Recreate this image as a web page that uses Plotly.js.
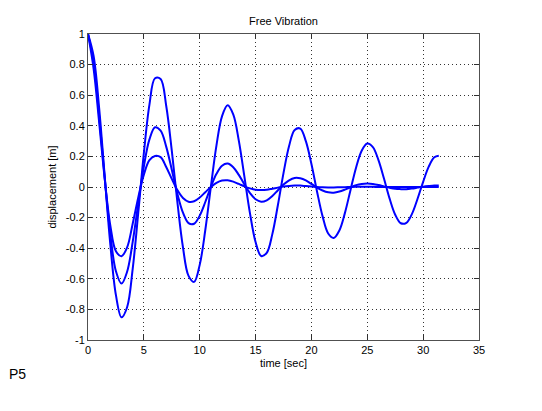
<!DOCTYPE html>
<html>
<head>
<meta charset="utf-8">
<script src="https://cdn.plot.ly/plotly-3.0.1.min.js"></script>
<style>html,body{margin:0;padding:0;background:#fff;}#chart{width:542px;height:411px;}</style>
</head>
<body>
<div id="chart"></div>
<script>
// time [sec]
const timeSec = [0,0.5,1,1.5,2,2.5,3,3.5,4,4.5,5,5.5,6,6.5,7,7.5,8,8.5,9,9.5,10,10.5,11,11.5,12,12.5,13,13.5,14,14.5,15,15.5,16,16.5,17,17.5,18,18.5,19,19.5,20,20.5,21,21.5,22,22.5,23,23.5,24,24.5,25,25.5,26,26.5,27,27.5,28,28.5,29,29.5,30,30.5,31,31.4];

// lightly damped response
const dispLow = [1.000,0.856,0.514,0.066,-0.376,-0.707,-0.852,-0.786,-0.535,-0.168,0.221,0.538,0.711,0.706,0.531,0.238,-0.098,-0.394,-0.581,-0.620,-0.509,-0.281,0.003,0.272,0.463,0.534,0.474,0.303,0.068,-0.172,-0.359,-0.451,-0.430,-0.308,-0.118,0.091,0.268,0.373,0.382,0.300,0.150,-0.029,-0.192,-0.304,-0.333,-0.284,-0.169,-0.019,0.128,0.237,0.284,0.261,0.176,0.054,-0.076,-0.181,-0.237,-0.234,-0.176,-0.077,0.034,0.133,0.194,0.205];

// medium damped response
const dispMid = [1.000,0.814,0.465,0.056,-0.308,-0.551,-0.631,-0.554,-0.359,-0.107,0.134,0.311,0.390,0.368,0.264,0.113,-0.044,-0.168,-0.236,-0.240,-0.187,-0.098,0.001,0.086,0.139,0.153,0.129,0.079,0.017,-0.040,-0.080,-0.096,-0.087,-0.059,-0.021,0.016,0.044,0.059,0.057,0.043,0.020,-0.004,-0.023,-0.035,-0.037,-0.030,-0.017,-0.002,0.012,0.020,0.023,0.020,0.013,0.004,-0.005,-0.012,-0.014,-0.014,-0.010,-0.004,0.002,0.006,0.009,0.009];

// heavily damped response
const dispHigh = [1.000,0.774,0.421,0.049,-0.252,-0.420,-0.452,-0.395,-0.240,-0.068,0.081,0.176,0.203,0.195,0.131,0.053,-0.020,-0.072,-0.096,-0.093,-0.069,-0.034,0.000,0.027,0.042,0.044,0.035,0.020,0.004,-0.009,-0.018,-0.020,-0.018,-0.011,-0.004,0.003,0.007,0.009,0.009,0.006,0.003,0.000,-0.002,-0.003,-0.003,-0.002,-0.001,0.000,0.001,0.001,0.001,0.001,0.000,0.000,0.000,0.000,0.000,0.000,0.000,0.000,0.000,0.000,0.000,0.000];

const xTicks = [0,5,10,15,20,25,30,35];
const yTicks = [-1,-0.8,-0.6,-0.4,-0.2,0,0.2,0.4,0.6,0.8,1];
const yTickText = ['-1','-0.8','-0.6','-0.4','-0.2','0','0.2','0.4','0.6','0.8','1'];

const lineStyle = {color:'#0000FF', width:2, shape:'spline', smoothing:1};
const traces = [dispLow, dispMid, dispHigh].map(d => ({
  x: timeSec, y: d, type:'scatter', mode:'lines', line: lineStyle, hoverinfo:'skip'
}));

const fontFam = 'Liberation Sans, Arial, Helvetica, sans-serif';
const axisCommon = {
  showline:true, mirror:'ticks', linecolor:'#505050', linewidth:1,
  ticks:'inside', ticklen:5, tickcolor:'#303030', tickwidth:1,
  showgrid:true, gridcolor:'rgba(0,0,0,0.8)', griddash:'1px,3px', gridwidth:1,
  zeroline:false, tickfont:{family:fontFam, size:11, color:'#000'}
};

const layout = {
  width:542, height:411,
  margin:{l:88, r:63, t:34, b:71, pad:0},
  paper_bgcolor:'#fff', plot_bgcolor:'#fff',
  showlegend:false,
  font:{family:fontFam, size:11, color:'#000'},
  title:{text:'Free Vibration', x:0.5, xref:'paper', y:1-21/411, yref:'container', yanchor:'middle', font:{family:fontFam, size:11, color:'#000'}},
  xaxis: Object.assign({}, axisCommon, {
    range:[0,35], tickvals:xTicks, ticktext:xTicks.map(String),
    title:{text:'time [sec]', standoff:4, font:{family:fontFam, size:11, color:'#000'}}
  }),
  yaxis: Object.assign({}, axisCommon, {
    range:[-1,1], tickvals:yTicks, ticktext:yTickText,
    title:{text:'displacement [m]', standoff:6, font:{family:fontFam, size:11, color:'#000'}}
  }),
  annotations:[{text:'P5', xref:'paper', yref:'paper', x:-81/391, y:-34/306, xanchor:'left', yanchor:'middle', showarrow:false, font:{family:fontFam, size:14, color:'#000'}}]
};

Plotly.newPlot('chart', traces, layout, {staticPlot:true, displayModeBar:false});
</script>
</body>
</html>
